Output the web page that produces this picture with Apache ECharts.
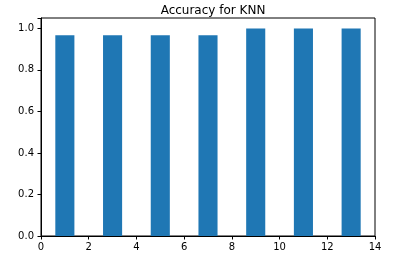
<!DOCTYPE html>
<html><head><meta charset="utf-8">
<script src="https://cdn.jsdelivr.net/npm/echarts@6/dist/echarts.min.js"></script>
<style>html,body{margin:0;padding:0;background:#fff}#c{width:404px;height:260px}</style>
</head><body><div id="c"></div>
<script>
const xPositions = [1, 3, 5, 7, 9, 11, 13];
const accuracy = [0.9667, 0.9667, 0.9667, 0.9667, 1.0, 1.0, 1.0];
const barWidthUnits = 0.8;
const xTicks = [0, 2, 4, 6, 8, 10, 12, 14];
const yTicks = [0.0, 0.2, 0.4, 0.6, 0.8, 1.0];
const titleText = 'Accuracy for KNN';

const chart = echarts.init(document.getElementById('c'), null, {renderer: 'canvas'});
const font = 'DejaVu Sans';
const data = xPositions.map((x, i) => [x, accuracy[i]]);
chart.setOption({
  animation: false,
  backgroundColor: '#fff',
  title: {text: titleText, left: 208, textAlign: 'center', top: 0,
    textStyle: {fontFamily: font, fontSize: 12, fontWeight: 'normal', color: '#000'}},
  grid: {left: 41, right: 29, top: 18, bottom: 24, show: true, borderColor: '#000', borderWidth: 1, backgroundColor: 'transparent'},
  xAxis: {type: 'value', min: xTicks[0], max: xTicks[xTicks.length-1], interval: 2,
    axisLine: {show: true, onZero: false, lineStyle: {color: '#000', width: 1}},
    axisTick: {show: true, length: 3.5, lineStyle: {color: '#000'}},
    axisLabel: {fontFamily: font, fontSize: 10, color: '#000', margin: 6},
    splitLine: {show: false}},
  yAxis: {type: 'value', min: 0, max: 1.05, interval: 0.2,
    axisLine: {show: true, lineStyle: {color: '#000', width: 1}},
    axisTick: {show: true, length: 3.5, lineStyle: {color: '#000'}},
    axisLabel: {fontFamily: font, fontSize: 10, color: '#000', margin: 7,
      formatter: v => yTicks.some(t => Math.abs(t - v) < 1e-9) ? v.toFixed(1) : ''},
    splitLine: {show: false}},
  series: [{
    type: 'custom',
    data: data,
    encode: {x: 0, y: 1},
    renderItem: function (params, api) {
      const x = api.value(0), y = api.value(1);
      const p0 = api.coord([x - barWidthUnits / 2, y]);
      const p1 = api.coord([x + barWidthUnits / 2, 0]);
      return {type: 'rect', shape: {x: p0[0], y: p0[1], width: p1[0] - p0[0], height: p1[1] - p0[1]},
        style: {fill: '#1f77b4'}};
    }
  }]
});
</script></body></html>
